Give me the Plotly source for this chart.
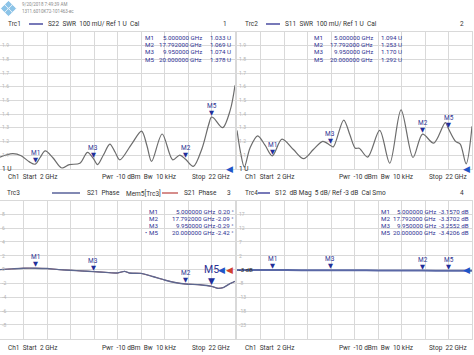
import plotly.graph_objects as go

W, H = 474, 355

# ---------------- data ----------------
grid_freqs = [2, 4, 6, 8, 10, 12, 14, 16, 18, 20, 22]

s22_freq = [2.0, 2.5, 3.1, 3.8, 4.5, 5.0, 5.4, 5.85, 6.5, 7.25, 7.9, 8.8, 9.45, 9.95, 10.3, 10.8,
            11.35, 11.8, 12.2, 13.2, 14.05, 14.5, 14.9, 15.8, 16.7, 17.3, 17.792, 18.45, 19.2,
            19.75, 20.0, 20.2, 20.95, 21.6, 22.0]
s22_swr = [1.085, 1.10, 1.11, 1.095, 1.05, 1.033, 1.08, 1.13, 1.08, 1.005, 1.03, 1.04, 1.12, 1.074,
           1.03, 1.10, 1.18, 1.12, 1.065, 1.18, 1.275, 1.17, 1.053, 1.254, 1.065, 1.10, 1.069, 1.017,
           1.15, 1.32, 1.378, 1.37, 1.30, 1.43, 1.61]

s11_freq = [2.0, 2.3, 2.62, 3.1, 3.76, 4.4, 5.0, 5.83, 6.8, 7.67, 8.5, 9.3, 9.95, 10.2, 11.08, 11.6,
            12.07, 12.4, 13.12, 14.14, 15.0, 15.96, 16.98, 17.792, 18.74, 19.73, 20.0, 20.6, 21.0,
            21.5, 22.0]
s11_swr = [1.28, 1.12, 1.012, 1.15, 1.24, 1.17, 1.094, 1.216, 1.14, 1.073, 1.14, 1.20, 1.170, 1.16,
           1.356, 1.25, 1.15, 1.15, 1.085, 1.28, 1.04, 1.43, 1.082, 1.253, 1.187, 1.337, 1.292, 1.20,
           1.18, 1.036, 1.31]

s21_freq = [2.0, 3.0, 4.0, 5.0, 6.0, 7.0, 8.0, 9.0, 9.95, 11.0, 12.0, 12.6, 13.0, 14.0, 15.0, 16.0,
            17.0, 17.792, 19.0, 20.0, 20.5, 21.0, 21.5, 22.0]
s21_phase = [0.0, 0.1, 0.2, 0.20, 0.15, 0.0, -0.1, -0.2, -0.29, -0.4, -0.5, -0.25, -0.5, -0.55, -1.0,
             -1.5, -1.9, -2.09, -2.2, -2.42, -2.7, -2.6, -2.1, -1.7]

s12_freq = [2.0, 5.0, 7.5, 9.95, 12.0, 14.0, 16.0, 17.792, 20.0, 22.0]
s12_db = [-3.10, -3.157, -3.20, -3.2552, -3.25, -3.30, -3.33, -3.3702, -3.4206, -3.45]

marker_names = ["M1", "M2", "M3", "M5"]
marker_freqs = [5.0, 17.792, 9.95, 20.0]
s22_marker_vals = [1.033, 1.069, 1.074, 1.378]
s11_marker_vals = [1.094, 1.253, 1.170, 1.292]
s21_marker_vals = [0.20, -2.09, -0.29, -2.42]
s12_marker_vals = [-3.1570, -3.3702, -3.2552, -3.4206]

swr_ticks = [1.1, 1.2, 1.3, 1.4, 1.5, 1.6, 1.7, 1.8, 1.9, 2.0]
swr_ticktext = ["1.1", "1.2", "1.3", "1.4", "1.5", "1.6", "1.7", "1.8", "1.9", "2"]
phase_ticks = [-10, -8, -6, -4, -2, 0, 2, 4, 6, 8, 10]
phase_ticktext = ["-10", "-8", "-6", "-4", "-2", "0", "2", "4", "6", "8", "10"]
db_ticks = [-28, -23, -18, -13, -8, 2, 7, 12, 17, 22]
db_ticktext = ["-28", "-23", "-18", "-13", "-8", "2", "7", "12", "17", "22"]

# ---------------- layout helpers ----------------
def X(p):
    return p / W

def Y(p):
    return 1 - p / H

FONT = "Roboto"
FS = 6.5
TFS = 6.2
NAVY = "#2e3192"
TXT = "#333333"
GRID = "#d9d9d9"
TICK = "#b4b4b4"

panels = [
    dict(x0=0, x1=235, y0=32, y1=168.7),
    dict(x0=237, x1=472, y0=32, y1=168.7),
    dict(x0=0, x1=235, y0=200.5, y1=338.7),
    dict(x0=237, x1=472, y0=200.5, y1=338.7),
]

fig = go.Figure()

yspecs = [
    dict(range=[1.0, 2.0], tickvals=swr_ticks, ticktext=swr_ticktext),
    dict(range=[1.0, 2.0], tickvals=swr_ticks, ticktext=swr_ticktext),
    dict(range=[-10, 10], tickvals=phase_ticks, ticktext=phase_ticktext),
    dict(range=[-28, 22], tickvals=db_ticks + [-3], ticktext=db_ticktext + [""]),
]

layout = dict(
    width=W, height=H, margin=dict(l=0, r=0, t=0, b=0),
    paper_bgcolor="white", plot_bgcolor="white", showlegend=False,
    font=dict(family=FONT, size=FS, color=TXT),
)

for i, (p, ys) in enumerate(zip(panels, yspecs)):
    n = "" if i == 0 else str(i + 1)
    layout["xaxis" + n] = dict(
        domain=[X(p["x0"]), X(p["x1"])], range=[2, 22], tickvals=grid_freqs,
        showticklabels=False, showgrid=True, gridcolor=GRID, gridwidth=1, zeroline=False,
        showline=True, mirror=True, linecolor=GRID, linewidth=1, anchor="y" + n, ticks="",
    )
    layout["yaxis" + n] = dict(
        domain=[Y(p["y1"]), Y(p["y0"])], range=ys["range"], tickvals=ys["tickvals"],
        ticktext=ys["ticktext"], ticklabelposition="inside", ticks="",
        tickfont=dict(size=5, color=TICK, family=FONT), showgrid=True, gridcolor=GRID,
        gridwidth=1, zeroline=False, showline=True, mirror=True, linecolor=GRID,
        anchor="x" + n,
    )
fig.update_layout(**layout)

# ---------------- traces ----------------
fig.add_trace(go.Scatter(x=s22_freq, y=s22_swr, mode="lines", line=dict(color="#6c6c6c", width=1.2, shape="spline", smoothing=0.9), xaxis="x", yaxis="y"))
fig.add_trace(go.Scatter(x=s11_freq, y=s11_swr, mode="lines", line=dict(color="#6c6c6c", width=1.2, shape="spline", smoothing=0.9), xaxis="x2", yaxis="y2"))
fig.add_trace(go.Scatter(x=s21_freq, y=s21_phase, mode="lines", line=dict(color="#b05050", width=1.0, shape="spline", smoothing=0.6), xaxis="x3", yaxis="y3"))
fig.add_trace(go.Scatter(x=s21_freq, y=s21_phase, mode="lines", line=dict(color="#5d6890", width=1.4, shape="spline", smoothing=0.6), xaxis="x3", yaxis="y3"))
fig.add_trace(go.Scatter(x=s12_freq, y=s12_db, mode="lines", line=dict(color="#5a68a6", width=2, shape="spline", smoothing=0.6), xaxis="x4", yaxis="y4"))

ann = []
shapes = []

# ---------------- marker glyphs on traces ----------------
axes = [("x", "y"), ("x2", "y2"), ("x3", "y3"), ("x4", "y4")]
marker_vals = [s22_marker_vals, s11_marker_vals, s21_marker_vals, s12_marker_vals]
for pi, ((xa, ya), vals) in enumerate(zip(axes, marker_vals)):
    for name, f, v in zip(marker_names, marker_freqs, vals):
        big = (pi == 2 and name == "M5")
        ann.append(dict(x=f, y=v, xref=xa, yref=ya, text="▼", showarrow=False, yanchor="bottom",
                        yshift=-2, font=dict(size=9 if big else 6.5, color="#1f2f9a", family="DejaVu Sans")))
        ann.append(dict(x=f, y=v, xref=xa, yref=ya, text=name, showarrow=False, yanchor="bottom",
                        yshift=(8 if big else 5), font=dict(size=10.5 if big else 6.5, color=NAVY, family=FONT)))

# ---------------- marker tables ----------------
units = [" U", " U", " °", " dB"]
fmts = ["{:.3f}", "{:.3f}", "{:.2f}", "{:.4f}"]
table_cols = [  # name-left, freq-right, value-right (px)
    (143, 204, 233), (312, 375, 404), (147, 217, 236), (379, 438, 471)
]
table_rows = [(38, 45.2, 52.4, 59.6), (38, 45.2, 52.4, 59.6), (211.5, 218.6, 225.7, 232.8), (211.5, 218.6, 225.7, 232.8)]
for pi, vals in enumerate(marker_vals):
    c0, c1, c2 = table_cols[pi]
    for ri, (name, f, v) in enumerate(zip(marker_names, marker_freqs, vals)):
        yy = table_rows[pi][ri]
        if pi == 2 and name == "M5":
            ann.append(dict(x=X(c0 - 4), y=Y(yy), xref="paper", yref="paper", text="•", showarrow=False,
                            xanchor="left", yanchor="middle", font=dict(size=TFS, color=NAVY)))
        ann.append(dict(x=X(c0), y=Y(yy), xref="paper", yref="paper", text=name, showarrow=False,
                        xanchor="left", yanchor="middle", font=dict(size=TFS, color=NAVY)))
        ann.append(dict(x=X(c1), y=Y(yy), xref="paper", yref="paper", text="{:.6f} GHz".format(f),
                        showarrow=False, xanchor="right", yanchor="middle", font=dict(size=TFS, color=NAVY)))
        ann.append(dict(x=X(c2), y=Y(yy), xref="paper", yref="paper", text=fmts[pi].format(v) + units[pi],
                        showarrow=False, xanchor="right", yanchor="middle", font=dict(size=TFS, color=NAVY)))

# ---------------- headers ----------------
def txt(x, y, s, size=FS, color=TXT, anchor="left"):
    ann.append(dict(x=X(x), y=Y(y), xref="paper", yref="paper", text=s, showarrow=False,
                    xanchor=anchor, yanchor="middle", font=dict(size=size, color=color)))

def hline(x0, x1, y, color, w=1.3):
    shapes.append(dict(type="line", xref="paper", yref="paper", x0=X(x0), x1=X(x1), y0=Y(y), y1=Y(y),
                       line=dict(color=color, width=w)))

txt(6, 24, "Trc1")
hline(29, 43, 24, NAVY)
txt(46, 24, "S22  SWR  100 mU/ Ref 1 U  Cal")
txt(229, 24, "1", anchor="right")

txt(243, 24, "Trc2")
hline(266, 280, 24, NAVY)
txt(283, 24, "S11  SWR  100 mU/ Ref 1 U  Cal")
txt(466, 24, "2", anchor="right")

txt(5, 193, "Trc3")
hline(52, 80, 193, "#3f4a8a")
txt(85, 193, "S21  Phase")
txt(124, 193, "Mem5[Trc3]")
hline(162, 178, 193, "#c0504d")
txt(182, 193, "S21  Phase")
txt(233, 193, "3", anchor="right")

txt(243, 193, "Trc4")
hline(258, 270, 193, NAVY)
txt(273, 193, "S12  dB Mag  5 dB/ Ref -3 dB  Cal Smo")
txt(466, 193, "4", anchor="right")

for (bx, by) in [(0, 177), (237, 177), (0, 347.5), (237, 347.5)]:
    txt(bx + 6, by, "Ch1  Start  2 GHz")
    txt(bx + 100, by, "Pwr  -10 dBm  Bw  10 kHz")
    txt(bx + 232, by, "Stop  22 GHz", anchor="right")

# reference labels and arrows
ann.append(dict(x=0, y=1.0, xref="x domain", yref="y", text="1 U", showarrow=False, xanchor="left",
                yanchor="middle", font=dict(size=FS, color="#222")))
ann.append(dict(x=0, y=1.0, xref="x2 domain", yref="y2", text="1 U", showarrow=False, xanchor="left",
                yanchor="middle", font=dict(size=FS, color="#222")))
ann.append(dict(x=0, y=-3, xref="x4 domain", yref="y4", text="-3 dB", showarrow=False, xanchor="left",
                yanchor="middle", font=dict(size=6, color="#222")))
for xa, ya, yv in [("x", "y", 1.0), ("x2", "y2", 1.0), ("x4", "y4", -3)]:
    ann.append(dict(x=1, y=yv, xref=xa + " domain", yref=ya, text="◀", showarrow=False, xanchor="right",
                    yanchor="middle", font=dict(size=9, color="#1f55c8", family="DejaVu Sans")))
ann.append(dict(x=1, y=0, xref="x3 domain", yref="y3", text="◀", showarrow=False, xanchor="right",
                yanchor="middle", font=dict(size=9, color="#d04030", family="DejaVu Sans")))
ann.append(dict(x=1, y=0, xref="x3 domain", yref="y3", text="◀", showarrow=False, xanchor="right", xshift=-8,
                yanchor="middle", font=dict(size=9, color="#1f55c8", family="DejaVu Sans")))

# timestamp / logo
txt(20, 5, "9/20/2018 7:49:39 AM", size=4.5, color="#8a8a8a")
txt(20, 11.5, "1311.6010K72-101463-ec", size=4.5, color="#8a8a8a")
for cx, cy in [(8.5, 4.5), (4.5, 8.5), (12.5, 8.5), (8.5, 12.5)]:
    r = 3.2
    path = "M {} {} L {} {} L {} {} L {} {} Z".format(X(cx), Y(cy - r), X(cx + r), Y(cy), X(cx), Y(cy + r), X(cx - r), Y(cy))
    shapes.append(dict(type="path", xref="paper", yref="paper", path=path, fillcolor="#8cc4e8",
                       line=dict(color="#6aaedc", width=0.5)))

fig.update_layout(annotations=ann, shapes=shapes)
fig.write_html("out.html", config={"displayModeBar": False},
               post_script="document.body.style.margin='0';document.body.style.padding='0';")
